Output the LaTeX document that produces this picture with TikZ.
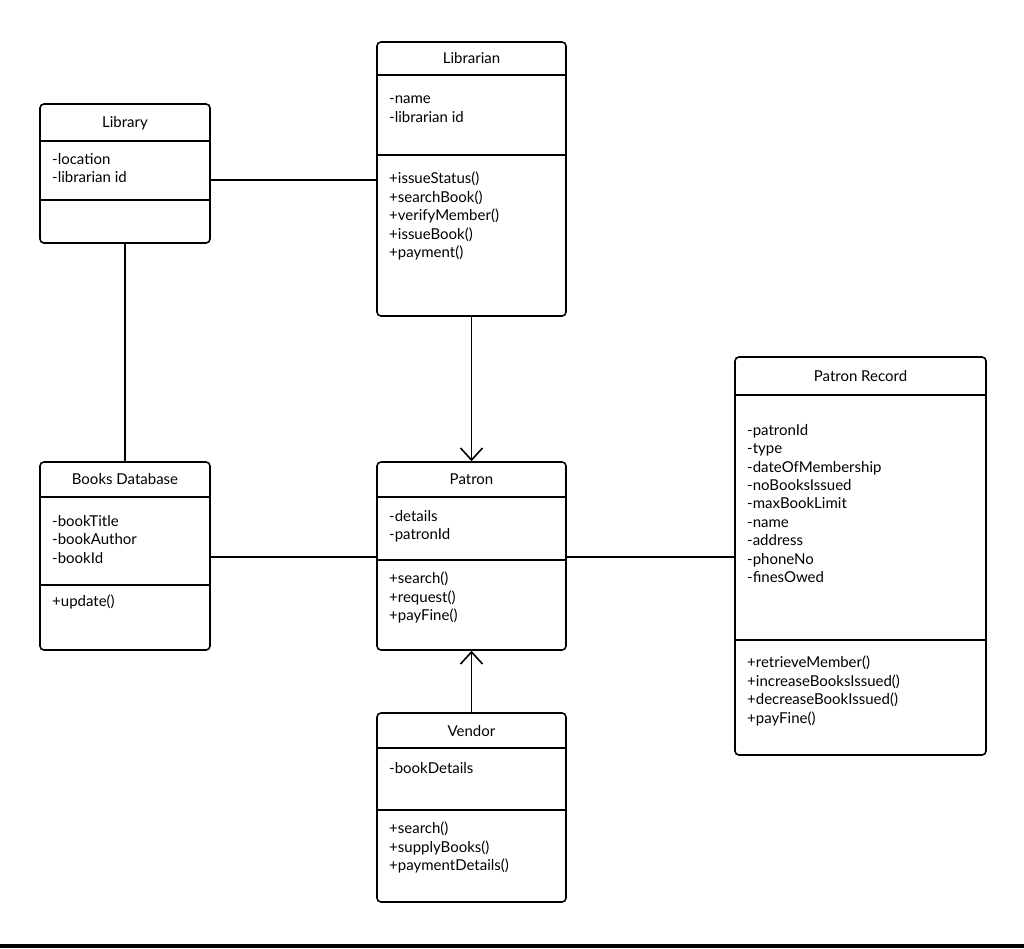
\documentclass[tikz,border=0pt]{standalone}
\usepackage{fontspec}
\setmainfont{Lato}
\usetikzlibrary{arrows.meta}
\begin{document}
\begin{tikzpicture}[x=1pt,y=-1pt,
  box/.style={draw,line width=1.6pt,rounded corners=4pt,inner sep=0},
  ttl/.style={font=\fontsize{15}{18}\selectfont},
  lst/.style={anchor=north west,inner sep=0,align=left,font=\fontsize{15}{18.4}\selectfont},
  dv/.style={line width=1.6pt},
  ln/.style={line width=1.6pt},
  ar/.style={line width=1.6pt,-{Straight Barb[length=12pt,width=22pt,line width=1.6pt]}}]
\useasboundingbox (0,0) rectangle (1024,948);
\fill[black] (0,944) rectangle (1024,948);
% boxes
\node[box,minimum width=170pt,minimum height=139pt] (lib) at (125,173.5) {};
\node[box,minimum width=189pt,minimum height=274pt] (lbr) at (471.5,179) {};
\node[box,minimum width=170pt,minimum height=188pt] (bdb) at (125,556) {};
\node[box,minimum width=189pt,minimum height=188pt] (pat) at (471.5,556) {};
\node[box,minimum width=251pt,minimum height=398pt] (prc) at (860.5,556) {};
\node[box,minimum width=189pt,minimum height=189pt] (ven) at (471.5,807.5) {};
% dividers
\draw[dv] (40,141)--(210,141) (40,200)--(210,200);
\draw[dv] (377,75)--(566,75) (377,155)--(566,155);
\draw[dv] (40,497)--(210,497) (40,585)--(210,585);
\draw[dv] (377,497)--(566,497) (377,560)--(566,560);
\draw[dv] (735,395)--(986,395) (735,640)--(986,640);
\draw[dv] (377,748)--(566,748) (377,810)--(566,810);
% titles
\node[ttl] (t1) at (125,123) {Library};
\node[ttl] (t2) at (471.5,58) {Librarian};
\node[ttl] (t3) at (125,479) {Books Database};
\node[ttl] (t4) at (471.5,479) {Patron};
\node[ttl] (t5) at (860.5,376) {Patron Record};
\node[ttl] (t6) at (471.5,731) {Vendor};
% lists
\node[lst] (l1) at (52,153) {-location\\-librarian id};
\node[lst] (l2) at (389,96) {-name\\-librarian id};
\node[lst] (l3) at (389,172) {+issueStatus()\\+searchBook()\\+verifyMember()\\+issueBook()\\+payment()};
\node[lst] (l4) at (52,515) {-bookTitle\\-bookAuthor\\-bookId};
\node[lst] (l5) at (52,595) {+update()};
\node[lst] (l6) at (389,510) {-details\\-patronId};
\node[lst] (l7) at (389,572) {+search()\\+request()\\+payFine()};
\node[lst] (l8) at (747,424) {-patronId\\-type\\-dateOfMembership\\-noBooksIssued\\-maxBookLimit\\-name\\-address\\-phoneNo\\-finesOwed};
\node[lst] (l9) at (747,656) {+retrieveMember()\\+increaseBooksIssued()\\+decreaseBookIssued()\\+payFine()};
\node[lst] (l10) at (389,762) {-bookDetails};
\node[lst] (l11) at (389,822) {+search()\\+supplyBooks()\\+paymentDetails()};
% connectors
\draw[ln] (lib.east|-0,180) -- (lbr.west|-0,180);
\draw[ln] (lib) -- (bdb);
\draw[ln] (bdb.east|-0,557) -- (pat.west|-0,557);
\draw[ln] (pat.east|-0,557) -- (prc.west|-0,557);
\draw[ar] (lbr) -- (pat);
\draw[ar] (ven) -- (pat);
\end{tikzpicture}
\end{document}
